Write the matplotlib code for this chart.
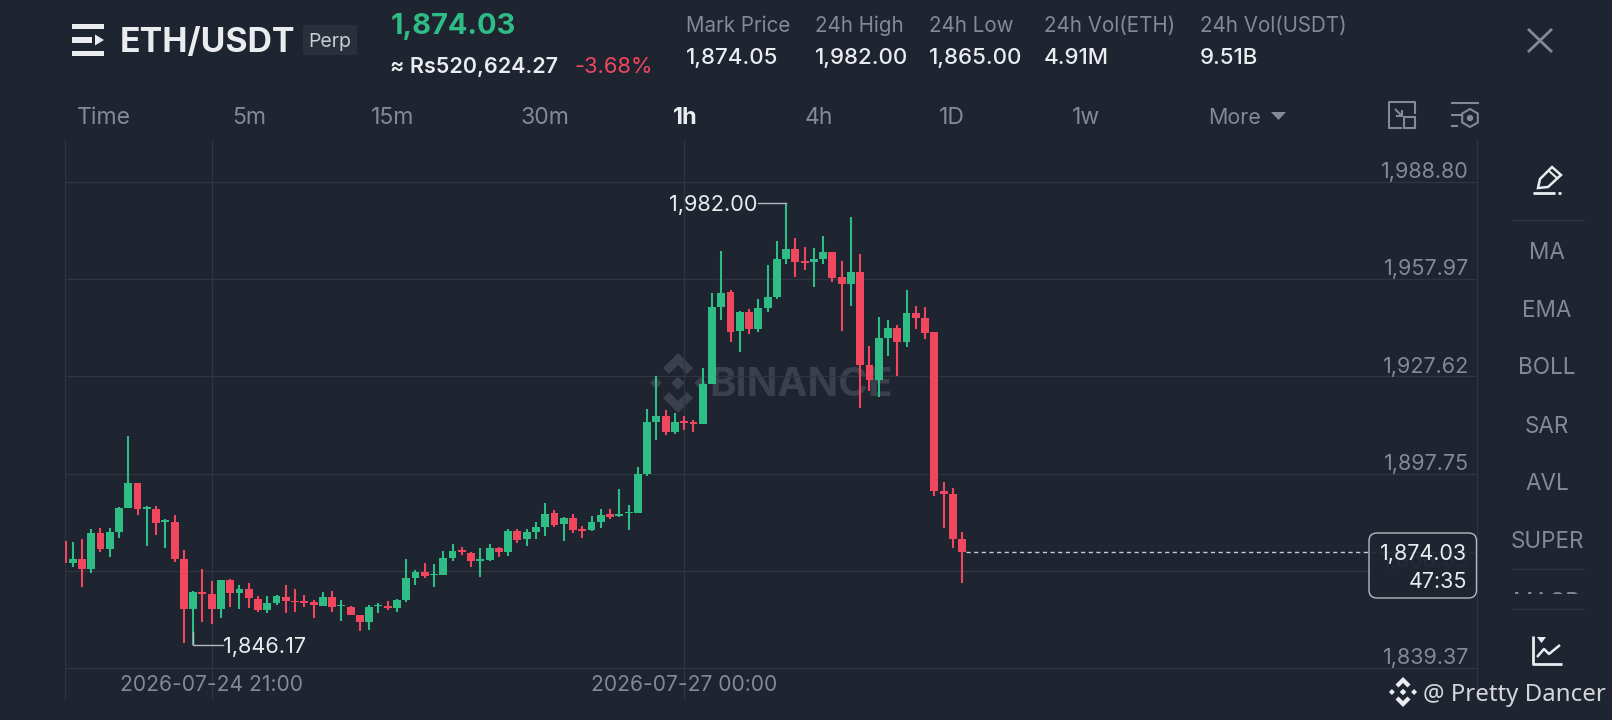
import numpy as np
from matplotlib import pyplot as plt
from matplotlib.patches import Polygon, Rectangle, FancyBboxPatch, RegularPolygon, Circle

plt.rcParams['font.family'] = ['Inter', 'DejaVu Sans']

# 1h candles, ETH/USDT
opens = [1877.4, 1870.6, 1872.0, 1868.8, 1879.7, 1875.0, 1880.0, 1887.3, 1894.9, 1887.1,
         1887.1, 1882.9, 1883.1, 1872.0, 1856.8, 1862.0, 1861.3, 1856.8, 1865.7, 1861.8,
         1862.8, 1860.0, 1856.6, 1858.8, 1860.6, 1859.4, 1859.4, 1858.9, 1857.8, 1860.4,
         1857.7, 1857.6, 1855.1, 1852.9, 1857.7, 1857.9, 1857.1, 1859.5, 1866.3, 1867.9,
         1867.1, 1867.1, 1872.2, 1874.6, 1873.8, 1871.4, 1871.7, 1875.1, 1873.9, 1880.2,
         1877.9, 1880.1, 1881.5, 1885.9, 1882.5, 1884.4, 1881.0, 1880.6, 1883.1, 1885.5,
         1884.9, 1885.7, 1885.7, 1897.75, 1913.6, 1915.3, 1910.4, 1913.9, 1913.5, 1912.9,
         1925.2, 1949.1, 1953.8, 1941.6, 1947.6, 1942.3, 1948.9, 1952.4, 1964.4, 1967.4,
         1963.7, 1963.5, 1964.2, 1966.6, 1958.7, 1956.4, 1960.1, 1931.2, 1926.6, 1939.7,
         1942.7, 1938.2, 1947.3, 1945.8, 1941.3, 1892.5, 1891.6, 1877.8]
highs = [1877.4, 1876.9, 1877.8, 1881.0, 1881.1, 1881.3, 1887.7, 1909.3, 1894.9, 1887.9,
         1887.9, 1883.9, 1885.2, 1874.6, 1862.3, 1868.8, 1865.3, 1865.7, 1865.8, 1864.0,
         1864.6, 1860.8, 1860.9, 1861.1, 1864.0, 1862.8, 1861.0, 1859.6, 1861.9, 1862.2,
         1859.5, 1857.8, 1855.1, 1858.1, 1858.6, 1859.4, 1859.8, 1871.8, 1868.5, 1870.7,
         1870.3, 1874.4, 1876.3, 1875.6, 1873.9, 1875.3, 1876.3, 1875.5, 1880.8, 1880.8,
         1880.8, 1883.0, 1888.7, 1886.7, 1884.5, 1885.5, 1881.8, 1884.9, 1887.0, 1887.1,
         1893.0, 1888.1, 1899.8, 1917.5, 1927.8, 1917.2, 1916.2, 1915.3, 1914.1, 1930.3,
         1953.7, 1967.0, 1954.7, 1948.0, 1948.5, 1951.7, 1962.5, 1970.0, 1982.0, 1970.9,
         1968.0, 1967.7, 1971.5, 1966.6, 1963.7, 1977.5, 1965.8, 1937.0, 1946.2, 1945.1,
         1943.6, 1954.5, 1949.6, 1949.4, 1941.3, 1895.2, 1893.3, 1880.0]
lows = [1870.8, 1869.6, 1863.6, 1867.6, 1873.9, 1872.5, 1878.1, 1887.3, 1885.2, 1875.9,
        1879.2, 1875.2, 1871.1, 1846.9, 1846.17, 1853.0, 1852.5, 1854.2, 1857.6, 1856.9,
        1857.2, 1856.1, 1855.8, 1858.2, 1855.7, 1855.9, 1857.4, 1854.1, 1857.8, 1856.0,
        1853.4, 1855.1, 1850.2, 1850.7, 1855.8, 1856.5, 1856.1, 1859.1, 1864.1, 1866.2,
        1863.6, 1867.1, 1871.3, 1873.0, 1869.6, 1866.5, 1871.4, 1872.6, 1872.9, 1876.8,
        1875.9, 1877.9, 1878.9, 1881.4, 1877.2, 1879.6, 1878.1, 1880.4, 1881.1, 1883.9,
        1884.7, 1880.6, 1885.7, 1897.0, 1908.0, 1909.7, 1910.0, 1911.0, 1910.4, 1912.9,
        1925.2, 1945.1, 1938.4, 1935.2, 1940.7, 1941.5, 1947.7, 1951.6, 1962.7, 1958.7,
        1960.8, 1955.4, 1962.7, 1957.0, 1941.6, 1949.7, 1917.8, 1923.1, 1921.3, 1934.0,
        1927.8, 1936.8, 1942.5, 1939.3, 1890.8, 1881.3, 1875.1, 1864.8]
closes = [1870.8, 1871.9, 1868.8, 1879.7, 1875.0, 1880.1, 1887.3, 1894.9, 1887.0, 1887.7,
          1882.7, 1883.5, 1871.8, 1856.8, 1862.0, 1861.4, 1856.8, 1865.7, 1861.8, 1863.0,
          1860.1, 1856.6, 1858.7, 1860.7, 1859.3, 1858.9, 1858.8, 1858.2, 1860.4, 1857.6,
          1858.2, 1855.1, 1852.9, 1857.6, 1858.2, 1857.1, 1859.5, 1866.3, 1867.9, 1866.9,
          1867.5, 1872.2, 1874.4, 1874.0, 1871.2, 1871.9, 1875.1, 1873.9, 1880.2, 1877.6,
          1880.1, 1881.5, 1885.4, 1882.2, 1884.4, 1880.6, 1880.4, 1883.1, 1885.3, 1884.7,
          1885.5, 1886.1, 1897.75, 1913.6, 1915.4, 1910.4, 1913.6, 1913.1, 1912.9, 1925.2,
          1949.1, 1953.7, 1941.5, 1947.6, 1942.3, 1948.9, 1952.4, 1964.4, 1967.4, 1963.5,
          1963.0, 1964.3, 1966.6, 1958.5, 1956.4, 1960.1, 1931.2, 1926.6, 1939.7, 1942.7,
          1938.2, 1947.3, 1945.8, 1941.2, 1892.5, 1891.6, 1877.8, 1874.03]

price_ticks = [1988.80, 1957.97, 1927.62, 1897.75, 1868.33, 1839.37]
time_ticks = [16, 67]
time_labels = ['2026-07-24 21:00', '2026-07-27 00:00']
intervals = ['Time', '5m', '15m', '30m', '1h', '4h', '1D', '1w']
interval_x = [77, 232, 371, 521, 673, 805, 939, 1072]
indicators = ['MA', 'EMA', 'BOLL', 'SAR', 'AVL', 'SUPER']
indicator_y = [253, 311, 368, 427, 484, 542]
stat_names = ['Mark Price', '24h High', '24h Low', '24h Vol(ETH)', '24h Vol(USDT)']
stat_values = ['1,874.05', '1,982.00', '1,865.00', '4.91M', '9.51B']
stat_x = [686, 815, 929, 1044, 1200]

BG = '#1e2430'
GREEN = '#2ebd85'
RED = '#f0475f'
GRID = '#30353e'
GRAY = '#848a94'
WHITE = '#eaecef'
MARK = '#3b414c'

W, H = 1612, 720
fig = plt.figure(figsize=(W / 100, H / 100), dpi=100, facecolor=BG)

# page overlay in pixels, y down
ui = fig.add_axes([0, 0, 1, 1], zorder=3)
ui.set_xlim(0, W)
ui.set_ylim(H, 0)
ui.axis('off')
ui.patch.set_alpha(0)

# chart area
left, right, top, bottom = 64.7, 1477.3, 140, 700
ax = fig.add_axes([left / W, 1 - bottom / H, (right - left) / W, (bottom - top) / H], zorder=1)
ax.set_facecolor(BG)
ax.set_yscale('log')
ax.set_ylim(1829.94, 2002.27)
ax.set_xlim(0.14, 152.6)
ax.set_yticks(price_ticks)
ax.set_yticks([], minor=True)
ax.set_yticklabels([])
ax.set_xticks(time_ticks)
ax.set_xticklabels(time_labels, color=GRAY, fontsize=15.1)
ax.tick_params(axis='x', length=0, pad=-18)
ax.tick_params(axis='y', length=0)
ax.grid(True, color=GRID, linewidth=1)
ax.set_axisbelow(True)
for side in ['top', 'bottom']:
    ax.spines[side].set_visible(False)
for side in ['left', 'right']:
    ax.spines[side].set_color(GRID)


def logo(axis, cx, cy, r, color, z):
    shapes = [[(0, 1), (.5, .5), (.3, .3), (0, .6), (-.3, .3), (-.5, .5)],
              [(0, -1), (.5, -.5), (.3, -.3), (0, -.6), (-.3, -.3), (-.5, -.5)],
              [(0, .22), (.22, 0), (0, -.22), (-.22, 0)],
              [(-.74, .2), (-.54, 0), (-.74, -.2), (-.94, 0)],
              [(.74, .2), (.94, 0), (.74, -.2), (.54, 0)]]
    for s in shapes:
        pts = [(cx + a * r, cy + b * r) for a, b in s]
        axis.add_patch(Polygon(pts, closed=True, facecolor=color, edgecolor='none',
                               zorder=z, transform=ui.transData, clip_on=False))


# watermark sits behind the candles
logo(ax, 678, 383, 30, MARK, 0.5)
ax.text(801, 385, 'BINANCE', transform=ui.transData, color=MARK, fontsize=29,
        fontweight='bold', ha='center', va='center', zorder=0.5)

x = np.arange(len(opens))
opens = np.array(opens)
closes = np.array(closes)
colors = [GREEN if c >= o else RED for o, c in zip(opens, closes)]
ax.vlines(x, lows, highs, colors=colors, linewidth=1.5, zorder=2)
ax.bar(x, np.abs(closes - opens), bottom=np.minimum(opens, closes), width=0.85,
       color=colors, linewidth=0, zorder=3)

# last price line
ax.plot([x[-1] + 0.4, 152.6], [closes[-1], closes[-1]], color='#c9ccd0', linewidth=1,
        linestyle=(0, (3, 2.5)), zorder=2)

# high / low markers
ax.plot([75.0, 78], [1982, 1982], color='#b7bbc1', linewidth=1, zorder=2)
ax.text(74.9, 1981.5, '1,982.00', color=WHITE, fontsize=15.6, ha='right', va='center')
ax.plot([14, 14, 17.2], [1850, 1846.17, 1846.17], color='#b7bbc1', linewidth=1, zorder=4)
ax.text(17.2, 1845.6, '1,846.17', color=WHITE, fontsize=15.6, ha='left', va='center')

# price axis labels
for p in price_ticks:
    ax.annotate(f'{p:,.2f}', xy=((1469 - left) / (right - left), p),
                xycoords=ax.get_yaxis_transform(), xytext=(0, 7), textcoords='offset points',
                color=GRAY, fontsize=15.5, ha='right', va='center', zorder=1.5)


def label(px, py, s, size, color, ha='left', weight='normal', family='Inter'):
    return ui.text(px, py, s, fontsize=size * 0.72, color=color, ha=ha, va='center',
                   fontweight=weight, family=family)


def stroke(xs, ys, color=GRAY, lw=1.5):
    ui.plot(xs, ys, color=color, linewidth=lw, solid_capstyle='butt')


# price box
ui.add_patch(FancyBboxPatch((1373, 537), 99.5, 57, boxstyle='round,pad=4,rounding_size=8',
                            facecolor=BG, edgecolor='#c3c6cb', linewidth=1, alpha=0.92))
label(1467.5, 554, '1,874.03', 21.5, WHITE, ha='right')
label(1467.5, 582, '47:35', 21.5, WHITE, ha='right')

# header
for yy, x1 in [(26.3, 104), (53, 104)]:
    ui.add_patch(Rectangle((71.5, yy - 2.5), x1 - 71.5, 5.2, color=WHITE, linewidth=0))
ui.add_patch(Rectangle((71.5, 37), 20, 6, color=WHITE, linewidth=0))
ui.add_patch(Polygon([(95, 34.5), (104, 40), (95, 45.5)], closed=True, color=WHITE, linewidth=0))
label(120, 43, 'ETH/USDT', 33.8, WHITE, weight='bold')
ui.add_patch(FancyBboxPatch((305, 27), 50, 26, boxstyle='round,pad=2,rounding_size=3',
                            facecolor='#2a303b', edgecolor='none'))
label(330, 42, 'Perp', 19.5, '#c9ccd0', ha='center')
label(391, 27, '1,874.03', 29, GREEN, weight='bold')
label(390, 67, '\u2248 Rs520,624.27', 21.5, WHITE, weight='semibold')
label(575, 67, '-3.68%', 22, RED)
for name, val, px in zip(stat_names, stat_values, stat_x):
    label(px, 26, name, 20.6, GRAY)
    label(px, 58, val, 22.3, WHITE, weight='medium')

# close button
stroke([1528, 1552], [29, 52], lw=2)
stroke([1552, 1528], [29, 52], lw=2)

# interval tabs
for name, px in zip(intervals, interval_x):
    if name == '1h':
        label(px, 118, name, 23.5, WHITE, weight='bold')
    else:
        label(px, 118, name, 23, GRAY)
label(1208, 118, 'More', 21.5, GRAY)
ui.add_patch(Polygon([(1271, 112), (1286, 112), (1278.5, 120)], closed=True, color=GRAY, linewidth=0))

# fullscreen + settings icons
stroke([1402, 1389, 1389, 1401], [128, 128, 102, 102])
stroke([1401, 1415, 1415], [102, 102, 114])
ui.add_patch(Rectangle((1404, 117), 11, 11, fill=False, edgecolor=GRAY, linewidth=1.5))
stroke([1395, 1402], [109, 116])
stroke([1396, 1402, 1402], [116, 116, 110])
stroke([1451, 1479], [103, 103])
stroke([1451, 1463], [115, 115])
stroke([1451, 1458], [126, 126])
ui.add_patch(RegularPolygon((1470, 118), 6, radius=9, fill=False, edgecolor=GRAY, linewidth=1.5))
ui.add_patch(Circle((1470, 118), 2.5, color=GRAY))

# side bar
for name, py in zip(indicators, indicator_y):
    label(1547, py, name, 22.5, GRAY, ha='center')
clipped = label(1547, 603, 'MACD', 22.5, GRAY, ha='center')
clipped.set_clip_on(True)
clipped.set_clip_path(Rectangle((1500, 585), 100, 9, transform=ui.transData))
for py in [220, 569, 609]:
    ui.plot([1512, 1584], [py, py], color='#30353e', linewidth=1)
# pencil
ui.add_patch(Polygon([(1538, 188), (1540, 179), (1552, 167), (1561, 175), (1548, 187)], closed=True,
                     fill=False, edgecolor=WHITE, linewidth=1.8))
stroke([1548.5, 1557.5], [170.5, 178.5], color=WHITE, lw=1.5)
stroke([1533, 1555], [193, 193], color=WHITE, lw=2)
stroke([1558, 1561], [193, 193], color=WHITE, lw=2)
# indicator chart icon
stroke([1533, 1533, 1562], [636, 664, 664], color=WHITE, lw=2)
stroke([1537, 1544, 1549, 1560], [657, 649, 654, 645], color=WHITE, lw=1.8)
ui.add_patch(Polygon([(1537, 637), (1546, 637), (1541.5, 643)], closed=True, color=WHITE, linewidth=0))

# footer watermark
logo(ui, 1403, 692, 15, WHITE, 4)
label(1423, 695, '@ Pretty Dancer', 24, '#d5d7da', family='Noto Sans')

fig.savefig('out.png', dpi=100, facecolor=BG)
